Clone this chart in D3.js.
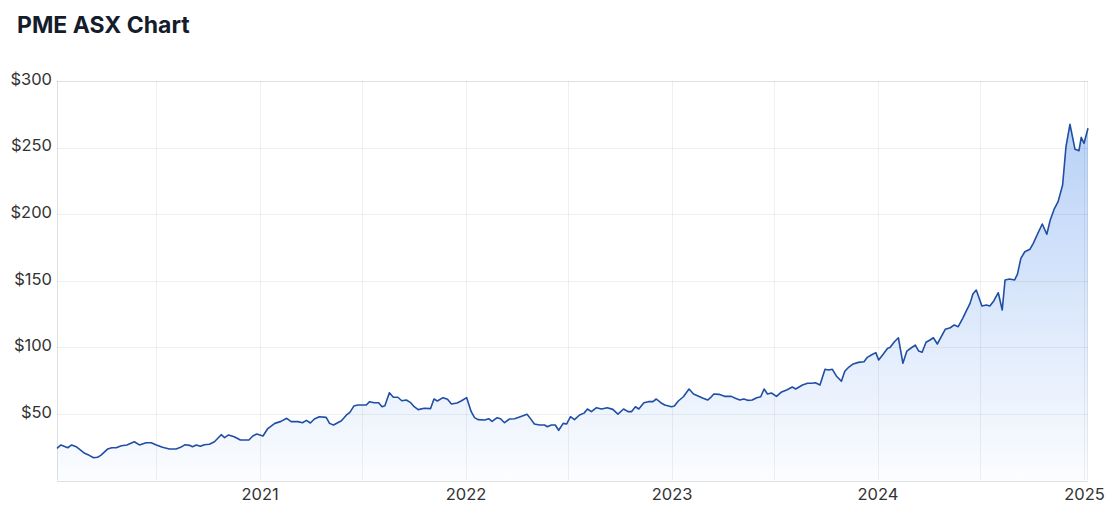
<!DOCTYPE html>
<html>
<head>
<meta charset="utf-8">
<script src="https://cdn.jsdelivr.net/npm/d3@7"></script>
<style>
  html, body { margin: 0; padding: 0; background: #fff; }
  svg text { font-family: Inter, "Noto Sans", sans-serif; }
  .title { font-weight: 700; font-size: 23px; fill: #151c2c; }
  .tick-label { font-size: 16.5px; fill: #333; }
</style>
</head>
<body>
<svg id="chart" width="1117" height="517"></svg>
<script>
// weekly-ish closes
const dates = [
  "2020-01-08","2020-01-15","2020-01-27","2020-02-03","2020-02-11","2020-02-26","2020-03-05","2020-03-13",
  "2020-03-20","2020-03-26","2020-04-07","2020-04-14","2020-04-22","2020-05-01","2020-05-11","2020-05-24",
  "2020-06-02","2020-06-14","2020-06-23","2020-07-02","2020-07-13","2020-07-25","2020-08-06","2020-08-14",
  "2020-08-22","2020-08-30","2020-09-04","2020-09-11","2020-09-18","2020-09-25","2020-10-04","2020-10-13",
  "2020-10-19","2020-10-25","2020-10-31","2020-11-07","2020-11-17","2020-11-28","2020-12-13","2020-12-20",
  "2020-12-27","2021-01-07","2021-01-15","2021-01-28","2021-02-08","2021-02-18","2021-02-26","2021-03-10",
  "2021-03-18","2021-03-25","2021-04-01","2021-04-08","2021-04-17","2021-04-29","2021-05-05","2021-05-12",
  "2021-05-26","2021-06-04","2021-06-10","2021-06-17","2021-06-24","2021-07-09","2021-07-15","2021-07-23",
  "2021-07-31","2021-08-06","2021-08-11","2021-08-19","2021-08-26","2021-09-03","2021-09-10","2021-09-18",
  "2021-09-25","2021-10-02","2021-10-09","2021-10-20","2021-10-31","2021-11-06","2021-11-12","2021-11-22",
  "2021-11-30","2021-12-07","2021-12-17","2021-12-24","2022-01-03","2022-01-11","2022-01-17","2022-01-23",
  "2022-02-04","2022-02-11","2022-02-17","2022-02-26","2022-03-04","2022-03-11","2022-03-20","2022-03-29",
  "2022-04-08","2022-04-20","2022-04-27","2022-05-03","2022-05-12","2022-05-21","2022-05-26","2022-06-02",
  "2022-06-09","2022-06-15","2022-06-23","2022-06-29","2022-07-06","2022-07-13","2022-07-22","2022-07-30",
  "2022-08-05","2022-08-12","2022-08-21","2022-08-30","2022-09-09","2022-09-19","2022-09-28","2022-10-08",
  "2022-10-16","2022-10-22","2022-10-29","2022-11-04","2022-11-13","2022-11-21","2022-11-29","2022-12-05",
  "2022-12-13","2022-12-20","2023-01-01","2023-01-06","2023-01-13","2023-01-22","2023-02-01","2023-02-09",
  "2023-02-17","2023-02-26","2023-03-06","2023-03-11","2023-03-17","2023-03-26","2023-04-05","2023-04-17",
  "2023-04-24","2023-05-02","2023-05-09","2023-05-16","2023-05-24","2023-06-01","2023-06-08","2023-06-14",
  "2023-06-20","2023-06-27","2023-07-06","2023-07-14","2023-07-24","2023-08-03","2023-08-09","2023-08-21",
  "2023-08-30","2023-09-06","2023-09-13","2023-09-21","2023-09-30","2023-10-06","2023-10-13","2023-10-20",
  "2023-10-29","2023-11-04","2023-11-10","2023-11-19","2023-11-28","2023-12-08","2023-12-14","2023-12-21",
  "2023-12-29","2024-01-03","2024-01-11","2024-01-19","2024-01-23","2024-01-31","2024-02-07","2024-02-15",
  "2024-02-22","2024-03-01","2024-03-08","2024-03-14","2024-03-20","2024-03-27","2024-04-03","2024-04-09",
  "2024-04-16","2024-04-23","2024-04-30","2024-05-09","2024-05-16","2024-05-23","2024-05-31","2024-06-07",
  "2024-06-13","2024-06-18","2024-06-24","2024-07-04","2024-07-12","2024-07-18","2024-07-25","2024-08-02",
  "2024-08-09","2024-08-14","2024-08-22","2024-08-31","2024-09-05","2024-09-11","2024-09-18","2024-09-27",
  "2024-10-03","2024-10-12","2024-10-19","2024-10-27","2024-11-02","2024-11-09","2024-11-16","2024-11-24",
  "2024-11-30","2024-12-07","2024-12-16","2024-12-23","2024-12-27","2025-01-01","2025-01-08"
];
const prices = [
  24.2, 26.7, 24.6, 26.7, 25.4, 20.4, 18.9, 17.1,
  17.4, 19.1, 23.7, 24.6, 24.6, 26.1, 26.7, 29.1,
  26.7, 28.4, 28.4, 26.7, 24.9, 23.7, 23.7, 24.9,
  26.9, 26.4, 25.4, 26.7, 25.7, 26.9, 27.2, 29.1,
  31.7, 34.4, 32.2, 34.2, 32.9, 30.4, 30.4, 33.4,
  34.9, 33.4, 38.7, 42.9, 44.4, 46.7, 44.2, 44.2,
  43.4, 45.2, 43.2, 46.2, 47.9, 47.4, 42.9, 41.7,
  44.9, 49.2, 51.2, 55.9, 56.7, 56.7, 59.2, 58.4,
  58.4, 55.4, 56.2, 65.9, 62.5, 62.5, 59.9, 60.4,
  58.7, 55.4, 53.2, 54.2, 54.0, 61.2, 59.7, 62.2,
  61.0, 57.4, 58.2, 59.7, 62.2, 51.7, 47.2, 45.7,
  45.4, 46.4, 44.4, 47.2, 46.4, 43.4, 46.2, 46.4,
  47.9, 49.7, 45.9, 42.4, 41.7, 41.7, 40.4, 41.7,
  41.7, 37.7, 42.9, 42.4, 47.9, 45.7, 49.2, 50.6,
  53.7, 51.7, 54.7, 53.7, 54.7, 53.4, 49.9, 53.7,
  51.7, 51.7, 55.4, 53.7, 58.4, 59.2, 59.2, 61.2,
  58.4, 56.7, 55.4, 55.9, 59.7, 62.9, 68.7, 65.0,
  63.5, 61.7, 60.4, 62.2, 65.0, 64.7, 63.2, 63.2,
  61.7, 60.4, 61.2, 60.2, 60.4, 62.2, 62.9, 68.7,
  65.0, 65.7, 63.2, 66.2, 68.0, 70.2, 68.7, 71.7,
  73.0, 73.0, 73.4, 71.7, 83.5, 83.0, 83.5, 78.5,
  74.5, 82.0, 84.7, 87.5, 88.7, 89.2, 92.5, 94.2,
  96.0, 90.5, 94.8, 99.3, 99.8, 104.2, 107.2, 88.0,
  97.2, 99.7, 101.7, 97.2, 96.3, 103.8, 105.5, 107.2,
  102.5, 108.0, 113.5, 114.7, 116.8, 115.5, 121.8, 128.0,
  133.0, 140.0, 143.0, 131.0, 131.8, 131.0, 134.8, 141.0,
  128.0, 150.6, 151.3, 150.6, 155.0, 166.8, 171.8, 173.6,
  178.1, 186.4, 192.6, 184.9, 195.5, 203.7, 209.4, 221.9,
  250.8, 267.5, 248.7, 247.7, 257.7, 253.2, 264.5
];
const yTicks = [50, 100, 150, 200, 250, 300];
const title = "PME ASX Chart";

const parse = d3.timeParse("%Y-%m-%d");
const data = dates.map((d, i) => ({ date: parse(d), value: prices[i] }));

const plotLeft = 57, plotRight = 1088, plotTop = 81, plotBottom = 480.5;
const svg = d3.select("#chart");

const x = d3.scaleTime()
  .domain(d3.extent(data, d => d.date))
  .range([plotLeft, plotRight]);
const y = d3.scaleLinear()
  .domain([0, 300])
  .range([plotBottom, plotTop]);

svg.append("text")
  .attr("class", "title")
  .attr("x", 17)
  .attr("y", 33)
  .text(title);

const defs = svg.append("defs");
const grad = defs.append("linearGradient")
  .attr("id", "areaFill")
  .attr("gradientUnits", "userSpaceOnUse")
  .attr("x1", 0).attr("x2", 0)
  .attr("y1", y(d3.max(prices))).attr("y2", plotBottom);
grad.append("stop").attr("offset", "0%").attr("stop-color", "rgb(70,135,235)").attr("stop-opacity", 0.38);
grad.append("stop").attr("offset", "100%").attr("stop-color", "rgb(70,135,235)").attr("stop-opacity", 0.02);

const area = d3.area()
  .x(d => x(d.date))
  .y0(plotBottom)
  .y1(d => y(d.value));
svg.append("path")
  .datum(data)
  .attr("d", area)
  .attr("fill", "url(#areaFill)");

// grid on top of the fill
const grid = svg.append("g");
grid.selectAll(".hgrid")
  .data([0].concat(yTicks))
  .enter()
  .append("line")
  .attr("x1", plotLeft).attr("x2", plotRight)
  .attr("y1", d => Math.round(y(d)) + 0.5)
  .attr("y2", d => Math.round(y(d)) + 0.5)
  .attr("stroke", d => (d === 0 || d === 300) ? "rgba(0,0,0,0.12)" : "rgba(0,0,0,0.06)")
  .attr("stroke-width", 1);

const halfYears = x.ticks(d3.timeMonth.every(6));
grid.selectAll(".vgrid")
  .data(halfYears)
  .enter()
  .append("line")
  .attr("x1", d => Math.round(x(d)) + 0.5)
  .attr("x2", d => Math.round(x(d)) + 0.5)
  .attr("y1", plotTop).attr("y2", plotBottom)
  .attr("stroke", "rgba(0,0,0,0.06)");
grid.append("line")
  .attr("x1", plotLeft + 0.5).attr("x2", plotLeft + 0.5)
  .attr("y1", plotTop).attr("y2", plotBottom)
  .attr("stroke", "rgba(0,0,0,0.12)");
grid.append("line")
  .attr("x1", plotRight - 0.5).attr("x2", plotRight - 0.5)
  .attr("y1", plotTop).attr("y2", plotBottom)
  .attr("stroke", "rgba(0,0,0,0.06)");

const line = d3.line()
  .x(d => x(d.date))
  .y(d => y(d.value));
svg.append("path")
  .datum(data)
  .attr("d", line)
  .attr("fill", "none")
  .attr("stroke", "#1f4ea4")
  .attr("stroke-width", 1.6)
  .attr("stroke-linejoin", "round");

// y axis labels
const yAxis = d3.axisLeft(y).tickValues(yTicks).tickFormat(d => "$" + d).tickSize(0).tickPadding(5);
const yg = svg.append("g").attr("transform", `translate(${plotLeft},0)`).call(yAxis)
  .attr("font-family", null).attr("font-size", null);
yg.select(".domain").remove();
yg.selectAll("text").attr("class", "tick-label").attr("fill", null).attr("dy", "0.2em");

// x axis labels, years only
const xAxis = d3.axisBottom(x).ticks(d3.timeYear.every(1)).tickFormat(d3.timeFormat("%Y")).tickSize(0).tickPadding(8);
const xg = svg.append("g").attr("transform", `translate(0,${plotBottom})`).call(xAxis)
  .attr("font-family", null).attr("font-size", null);
xg.select(".domain").remove();
xg.selectAll("text").attr("class", "tick-label").attr("fill", null);
</script>
</body>
</html>
